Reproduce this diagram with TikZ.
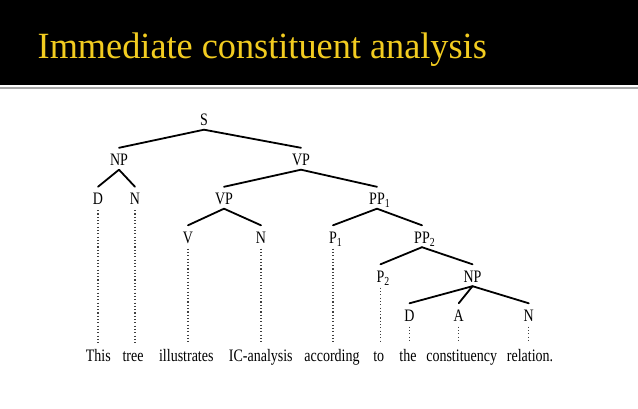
\documentclass[tikz,border=0pt]{standalone}
\usepackage{fontspec}
\setmainfont{Liberation Serif}
\newfontfamily\treefont[FakeStretch=0.8]{Liberation Serif}
\newfontfamily\titlefont[FakeStretch=0.98]{Liberation Serif}
\definecolor{titleyellow}{RGB}{242,204,32}
\definecolor{rulegray}{RGB}{168,168,168}
\begin{document}
\begin{tikzpicture}[x=1pt,y=-1pt,
  lbl/.style={inner sep=0pt, anchor=base, text height=18pt, text depth=3.5pt,
    font=\treefont\fontsize{17.5}{20}\selectfont},
  word/.style={inner sep=0pt, anchor=base, text height=18.5pt, text depth=4pt,
    font=\treefont\fontsize{17.5}{20}\selectfont},
  edge/.style={line width=1.8pt, line cap=round},
  dots/.style={line width=1.2pt, dash pattern=on 1.1pt off 2.2pt, black!75}]
\useasboundingbox (0,0) rectangle (638,409);
\fill[white] (0,0) rectangle (638,409);
% title bar
\fill[black] (0,0) rectangle (638,85);
\fill[rulegray] (0,86.6) rectangle (638,89.4);
\node[anchor=base west, inner sep=0pt, text=titleyellow,
  font=\titlefont\fontsize{37}{40}\selectfont] (title) at (37.5,59) {Immediate constituent analysis};
% tree labels
\node[lbl] (S) at (204,126) {S};
\node[lbl] (NP) at (119,166) {NP};
\node[lbl] (VP) at (301,166) {VP};
\node[lbl] (D1) at (98,205) {D};
\node[lbl] (N1) at (135,205) {N};
\node[lbl] (VP2) at (224,205) {VP};
\node[lbl] (PP1) at (377,205) {PP\rlap{\textsubscript{1}}};
\node[lbl] (V) at (188,243.5) {V};
\node[lbl] (N2) at (261,243.5) {N};
\node[lbl] (P1) at (333,243.5) {P\rlap{\textsubscript{1}}};
\node[lbl] (PP2) at (422,243.5) {PP\rlap{\textsubscript{2}}};
\node[lbl] (P2) at (380.5,282.5) {P\rlap{\textsubscript{2}}};
\node[lbl] (NP2) at (472.5,282.5) {NP};
\node[lbl] (D2) at (409.5,321.5) {D};
\node[lbl] (A) at (458.7,321.5) {A};
\node[lbl] (N3) at (528.8,321.5) {N};
% edges
\draw[edge] (S.south) -- (NP.north);
\draw[edge] (S.south) -- (VP.north);
\draw[edge] (NP.south) -- (D1.north);
\draw[edge] (NP.south) -- (N1.north);
\draw[edge] (VP.south) -- (VP2.north);
\draw[edge] (VP.south) -- (PP1.north);
\draw[edge] (VP2.south) -- (V.north);
\draw[edge] (VP2.south) -- (N2.north);
\draw[edge] (PP1.south) -- (P1.north);
\draw[edge] (PP1.south) -- (PP2.north);
\draw[edge] (PP2.south) -- (P2.north);
\draw[edge] (PP2.south) -- (NP2.north);
\draw[edge] (NP2.south) -- (D2.north);
\draw[edge] (NP2.south) -- (A.north);
\draw[edge] (NP2.south) -- (N3.north);
% words
\node[word] (w1) at (98.3,361.5) {This};
\node[word] (w2) at (133,361.5) {tree};
\node[word] (w3) at (186.3,361.5) {illustrates};
\node[word] (w4) at (260.8,361.5) {IC-analysis};
\node[word] (w5) at (332,361.5) {according};
\node[word] (w6) at (378.7,361.5) {to};
\node[word] (w7) at (408,361.5) {the};
\node[word] (w8) at (461.7,361.5) {constituency};
\node[word] (w9) at (530,361.5) {relation.};
% dotted projection lines
\foreach \l/\w in {D1/w1,N1/w2,V/w3,N2/w4,P1/w5,P2/w6,D2/w7,A/w8,N3/w9}
  \draw[dots] ([yshift=-1.5pt]\l.south) -- (\l.south |- \w.north);
\end{tikzpicture}
\end{document}
